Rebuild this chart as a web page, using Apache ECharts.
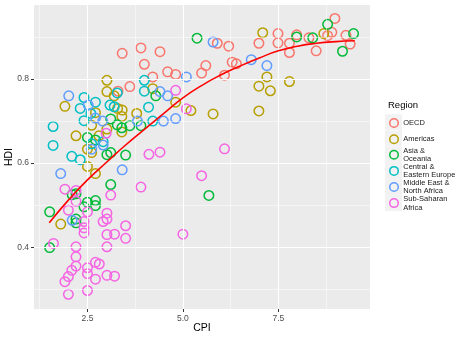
<!DOCTYPE html>
<html>
<head>
<meta charset="utf-8">
<script src="https://cdn.jsdelivr.net/npm/echarts@6/dist/echarts.min.js"></script>
<style>
html,body{margin:0;padding:0;background:#fff;}
#chart{width:474px;height:338px;}
</style>
</head>
<body>
<div id="chart"></div>
<script>
// ---- data (CPI, HDI) ----
var regionNames = ["OECD", "Americas", "Asia &\nOceania", "Central &\nEastern Europe", "Middle East &\nNorth Africa", "Sub-Saharan\nAfrica"];
var regionColors = ["#F8766D", "#B79F00", "#00BA38", "#00BFC4", "#619CFF", "#F564E3"];

var oecd = [[3.41,0.861],[3.90,0.874],[4.40,0.865],[3.99,0.835],[4.21,0.805],[4.60,0.817],[4.81,0.811],
  [3.61,0.782],[3.30,0.771],[5.49,0.814],[5.60,0.832],[5.90,0.885],[6.20,0.878],[6.09,0.809],[6.29,0.840],
  [6.40,0.836],[6.99,0.885],[7.49,0.908],[7.49,0.886],[7.79,0.885],[7.79,0.863],[7.98,0.905],[8.30,0.898],
  [8.49,0.867],[8.79,0.903],[8.90,0.911],[8.98,0.944],[9.27,0.904],[9.38,0.883]];
var americas = [[3.01,0.797],[3.01,0.770],[3.20,0.760],[4.21,0.777],[4.81,0.745],[1.91,0.735],[3.29,0.730],
  [3.41,0.726],[5.21,0.725],[2.71,0.720],[3.40,0.711],[3.79,0.718],[2.61,0.690],[3.01,0.681],[3.40,0.674],
  [2.20,0.665],[2.80,0.665],[2.50,0.633],[2.61,0.625],[2.50,0.592],[2.71,0.575],[1.80,0.455],[7.09,0.910],
  [8.69,0.908],[7.20,0.805],[6.99,0.783],[7.29,0.772],[7.79,0.794],[5.79,0.717],[6.99,0.724]];
var asia = [[5.37,0.897],[7.98,0.900],[8.40,0.898],[8.79,0.930],[9.47,0.908],[9.18,0.866],[4.29,0.760],
  [3.11,0.705],[3.28,0.691],[3.40,0.684],[3.61,0.689],[3.90,0.689],[2.50,0.661],[2.71,0.655],[3.01,0.620],
  [3.11,0.625],[3.50,0.619],[3.11,0.549],[2.10,0.525],[2.20,0.527],[2.50,0.507],[2.71,0.511],[2.71,0.499],
  [2.41,0.496],[1.51,0.484],[2.20,0.467],[2.20,0.458],[1.51,0.399],[5.68,0.523]];
var ceEurope = [[3.28,0.767],[3.99,0.797],[3.99,0.771],[2.41,0.756],[2.71,0.745],[2.31,0.730],[3.09,0.738],
  [3.20,0.734],[4.10,0.733],[2.41,0.701],[4.21,0.700],[1.60,0.687],[1.60,0.642],[2.61,0.646],[2.91,0.651],
  [2.09,0.616],[2.31,0.608],[2.59,0.718]];
var mena = [[5.09,0.805],[5.79,0.888],[6.79,0.846],[7.20,0.832],[4.40,0.770],[4.60,0.760],[2.01,0.760],
  [2.52,0.738],[2.71,0.707],[2.90,0.700],[3.81,0.700],[4.49,0.700],[4.81,0.706],[2.91,0.643],[2.61,0.633],
  [3.41,0.584],[1.80,0.575],[2.10,0.464]];
var ssAfrica = [[2.99,0.671],[4.11,0.621],[4.40,0.626],[4.81,0.773],[5.09,0.729],[6.09,0.634],[5.49,0.570],
  [3.90,0.543],[3.11,0.524],[1.91,0.538],[2.20,0.535],[2.20,0.509],[2.50,0.484],[2.00,0.488],[3.01,0.481],
  [3.01,0.467],[2.91,0.461],[2.41,0.461],[2.41,0.446],[2.41,0.434],[3.50,0.451],[3.01,0.430],[3.21,0.431],
  [3.50,0.421],[5.00,0.431],[1.61,0.409],[2.20,0.401],[3.01,0.401],[2.20,0.377],[2.71,0.364],[2.81,0.360],
  [2.20,0.355],[2.09,0.345],[2.50,0.351],[2.50,0.337],[3.01,0.333],[3.21,0.331],[2.00,0.330],[1.91,0.318],
  [2.71,0.324],[2.00,0.288],[2.50,0.297]];

// red trend curve
var trendCPI = [1.5, 2.0, 2.5, 3.0, 3.5, 4.0, 4.5, 5.0, 5.5, 6.0, 6.5, 7.0, 7.5, 8.0, 8.5, 9.0, 9.5];
var trendHDI = [0.458, 0.512, 0.560, 0.602, 0.643, 0.681, 0.718, 0.755, 0.785, 0.810, 0.831, 0.850, 0.867, 0.878, 0.885, 0.889, 0.891];

// axis ticks / grid
var xTicks = [2.5, 5.0, 7.5];
var xMinor = [1.25, 3.75, 6.25, 8.75];
var yTicks = [0.4, 0.6, 0.8];
var yMinor = [0.3, 0.5, 0.7, 0.9];

var regionData = [oecd, americas, asia, ceEurope, mena, ssAfrica];

var chart = echarts.init(document.getElementById('chart'), null, {renderer: 'canvas'});

var series = [];
// background grid lines
series.push({
  type: 'scatter', data: [], z: 1, silent: true,
  markLine: {
    silent: true, symbol: ['none', 'none'], animation: false,
    label: {show: false},
    emphasis: {disabled: true},
    data: xMinor.map(function (v) { return {xAxis: v, lineStyle: {color: '#fff', width: 0.5, type: 'solid'}}; })
      .concat(yMinor.map(function (v) { return {yAxis: v, lineStyle: {color: '#fff', width: 0.5, type: 'solid'}}; }))
      .concat(xTicks.map(function (v) { return {xAxis: v, lineStyle: {color: '#fff', width: 1.1, type: 'solid'}}; }))
      .concat(yTicks.map(function (v) { return {yAxis: v, lineStyle: {color: '#fff', width: 1.1, type: 'solid'}}; }))
  }
});
regionNames.forEach(function (name, i) {
  series.push({
    name: name, type: 'scatter', data: regionData[i], symbol: 'circle', symbolSize: 9.5, z: 3,
    itemStyle: {color: 'rgba(0,0,0,0)', borderColor: regionColors[i], borderWidth: 1.5, opacity: 1},
    emphasis: {disabled: true}
  });
});
series.push({
  type: 'line', name: 'trend', smooth: true, showSymbol: false, z: 5,
  data: trendCPI.map(function (x, i) { return [x, trendHDI[i]]; }),
  lineStyle: {color: '#FF0000', width: 1.6}, emphasis: {disabled: true}
});

var centers = [122.3, 138.6, 154.8, 170.9, 187.0, 203.1];
var legends = regionNames.map(function (name, i) {
  var twoLine = name.indexOf('\n') >= 0;
  var h = twoLine ? 17.4 : 8.7;
  return {
    data: [name], orient: 'vertical', left: 389, top: centers[i] - h / 2, padding: 0,
    itemWidth: 8.5, itemHeight: 8.5, selectedMode: false, icon: 'circle',
    itemStyle: {color: 'rgba(0,0,0,0)', borderColor: regionColors[i], borderWidth: 1.5},
    textStyle: {fontSize: 7.5, lineHeight: 8.7, color: '#1a1a1a', fontFamily: 'Liberation Sans'}
  };
});
var keyRects = centers.map(function (c) {
  return {type: 'rect', shape: {x: 385, y: c - 8, width: 17, height: 16}, style: {fill: '#F2F2F2'}, z: -1, silent: true};
});

chart.setOption({
  animation: false,
  backgroundColor: '#FFFFFF',
  textStyle: {fontFamily: 'Liberation Sans'},
  title: {text: 'Region', left: 388, top: 100, padding: 0,
    textStyle: {fontSize: 9.5, fontWeight: 'normal', color: '#000', fontFamily: 'Liberation Sans'}},
  grid: {left: 34, right: 104, top: 5, bottom: 29, containLabel: false, outerBoundsMode: 'none',
    show: true, backgroundColor: '#EBEBEB', borderWidth: 0},
  graphic: keyRects,
  legend: legends,
  xAxis: {
    type: 'value', min: 1.1, max: 9.9,
    name: 'CPI', nameLocation: 'middle', nameGap: 14, nameMoveOverlap: false,
    nameTextStyle: {fontSize: 10.5, color: '#000', fontFamily: 'Liberation Sans'},
    axisLine: {show: false},
    axisTick: {show: true, customValues: xTicks, length: 3, lineStyle: {color: '#333', width: 1}},
    axisLabel: {customValues: xTicks, margin: 5, fontSize: 8.5, color: '#4D4D4D',
      formatter: function (v) { return v.toFixed(1); }},
    splitLine: {show: false}, minorSplitLine: {show: false}
  },
  yAxis: {
    type: 'value', min: 0.253, max: 0.976,
    name: 'HDI', nameLocation: 'middle', nameGap: 19, nameRotate: 90, nameMoveOverlap: false,
    nameTextStyle: {fontSize: 10.5, color: '#000', fontFamily: 'Liberation Sans'},
    axisLine: {show: false},
    axisTick: {show: true, customValues: yTicks, length: 3, lineStyle: {color: '#333', width: 1}},
    axisLabel: {customValues: yTicks, margin: 5, fontSize: 8.5, color: '#4D4D4D',
      formatter: function (v) { return v.toFixed(1); }},
    splitLine: {show: false}, minorSplitLine: {show: false}
  },
  series: series
});
</script>
</body>
</html>
